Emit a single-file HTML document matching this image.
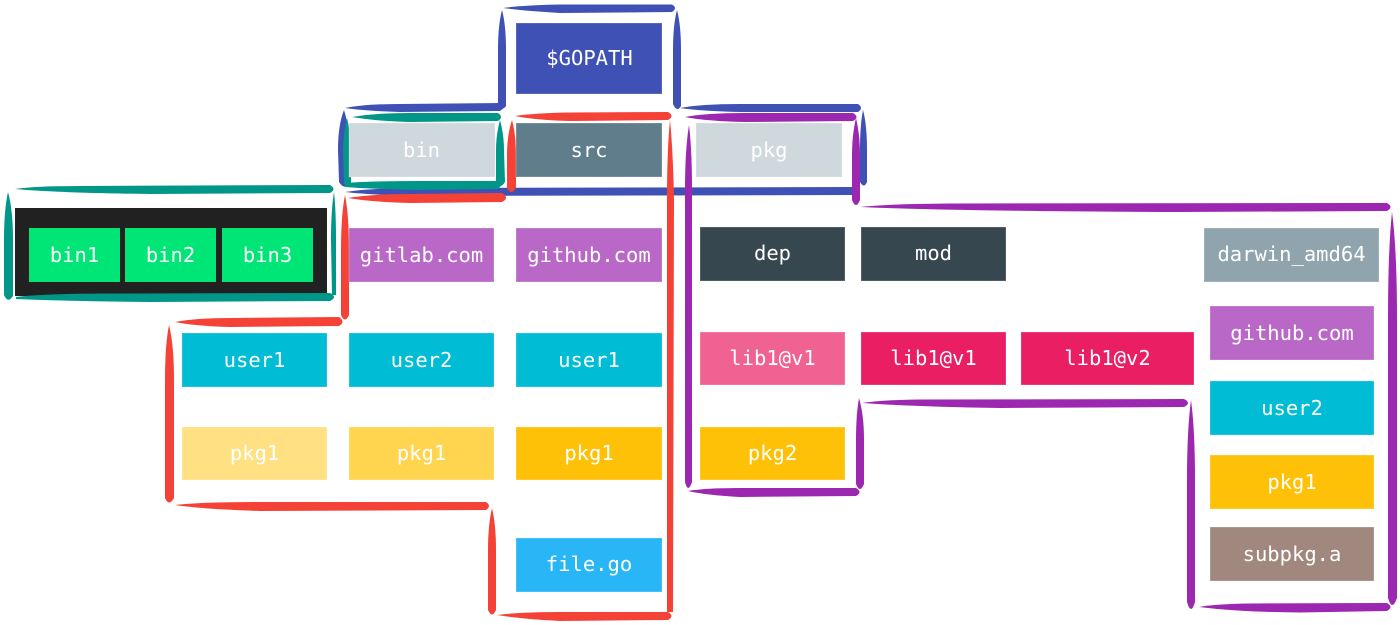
<!DOCTYPE html>
<html><head><meta charset="utf-8"><style>
html,body{margin:0;padding:0;background:#fff;width:1400px;height:625px;overflow:hidden}
svg{display:block}
text{font-family:"DejaVu Sans Mono","Liberation Mono",monospace;font-size:20.5px;fill:#fff;text-anchor:middle}
.l rect{stroke:#fff;stroke-opacity:.25;stroke-width:1}
</style></head><body>
<svg width="1400" height="625" viewBox="0 0 1400 625" xmlns="http://www.w3.org/2000/svg">
<rect width="1400" height="625" fill="#fff"/>
<g fill="#3f51b5">
<path d="M503 8Q525 5 560 4.500L672 4.500Q678 8 672 12L560 13Q525 11 503 8Z"/>
<path d="M502 10Q498 25 498 50L498 104Q502 112 506 106L506 50Q506 25 502 10Z"/>
<path d="M677 10Q673 25 673 50L673 104Q677 113 681 106L681 50Q681 25 677 10Z"/>
<path d="M345 108Q365 104 400 104L503 103L505 107L500 111L400 112Q365 111 345 108Z"/>
<path d="M680 108Q700 104 740 104L858 104Q864 108 858 112L740 112Q700 111 680 108Z"/>
<path d="M344 110Q338 125 338 150L339 182Q344 190 348 184L349 150Q349 125 344 110Z"/>
<path d="M863 110Q860 125 860 150L860 182Q864 189 867 182L867 150Q867 125 863 110Z"/>
<path d="M345 192Q370 188 420 188L855 187Q862 191 855 195L420 196Q370 195 345 192Z"/>
</g>
<g fill="#009688">
<path d="M352 117Q375 113 410 113L498 113Q504 117 498 121L410 122Q375 121 352 117Z"/>
<path d="M347 118Q343 135 343 150L344 184L351 186L351 150Q351 135 347 118Z"/>
<path d="M500 120Q496 135 496 150L496 182Q500 190 505 182L504 150Q504 135 500 120Z"/>
<path d="M345 183Q370 181 420 181L497 181Q505 185 497 189L420 190Q370 189 345 187Z"/>
<path d="M15 189Q35 186 80 186L330 185Q337 189 330 193L150 194Q60 193 15 189Z"/>
<path d="M8 192Q4 210 4 240L4 295Q8 304 13 296L13 240Q13 210 8 192Z"/>
<path d="M334 192Q331 210 331 240L332 295L336 295L336 240Q336 210 334 192Z"/>
</g>
<g fill="#f44336">
<path d="M515 116Q535 113 570 112.500L668 112Q675 116 668 120L570 121Q535 120 515 116Z"/>
<path d="M512 120Q507 135 507 155L507 188Q511 196 516 188L516 155Q516 135 512 120Z"/>
<path d="M348 198Q370 194 410 194L502 193Q510 198 502 202L410 203Q370 202 348 198Z"/>
<path d="M345 195Q341 215 341 250L341 315Q345 324 349 315L349 250Q349 215 345 195Z"/>
<path d="M175 322Q195 318 230 318L339 317Q346 322 339 326L230 327Q195 326 175 322Z"/>
<path d="M169 325Q165 345 165 380L165 498Q169 507 174 498L174 380Q174 345 169 325Z"/>
<path d="M175 505Q200 502 260 502L486 502Q492 506 486 510L260 511Q200 509 175 505Z"/>
<path d="M492 508Q488 525 488 550L488 610Q492 619 496 610L496 550Q496 525 492 508Z"/>
<path d="M497 615Q520 612 560 612L668 612Q675 616 668 620L560 621Q520 619 497 615Z"/>
<path d="M670 120Q667 150 667 200L667 612L673 612L674 200Q673 150 670 120Z"/>
</g>
<g fill="#9c27b0">
<path d="M685 117Q705 113 745 113L853 113Q860 117 853 121L745 122Q705 121 685 117Z"/>
<path d="M856 118Q852 135 852 155L852 200Q856 210 860 200L860 155Q860 135 856 118Z"/>
<path d="M689 125Q685 150 685 190L685 482Q688 494 692 482L692 190Q692 150 689 125Z"/>
<path d="M688 491Q705 488 740 488L856 488Q863 492 856 496L740 497Q705 495 688 491Z"/>
<path d="M859 398Q856 415 856 440L856 484Q860 494 864 484L864 440Q864 415 859 398Z"/>
<path d="M862 403Q880 400 920 399.500L1184 399Q1192 403 1184 407L1000 408Q920 407 862 403Z"/>
<path d="M1191 400Q1187 430 1187 480L1187 602Q1191 616 1195 602L1195 480Q1195 430 1191 400Z"/>
<path d="M1199 607Q1215 604 1250 603.500L1387 603Q1394 607 1387 611L1300 612.500Q1240 612 1199 607Z"/>
<path d="M860 207Q885 204 950 203.500L1387 203Q1394 207 1387 211L1180 212Q950 211 860 207Z"/>
<path d="M1392 212Q1388 250 1388 320L1388 598Q1392 612 1397 598L1397 320Q1397 250 1392 212Z"/>
</g>
<rect x="15" y="208" width="312" height="88" fill="#212121"/>
<path d="M16 297Q40 294 100 293.500L330 293Q338 297 330 301L150 302Q60 301 16 299Z" fill="#009688"/>
<g class="l">
<rect x="516" y="23" width="146" height="71" fill="#3f51b5"/>
<rect x="349" y="123" width="146" height="54" fill="#cfd8dc"/>
<rect x="516" y="123" width="146" height="54" fill="#607d8b"/>
<rect x="696" y="123" width="146" height="54" fill="#cfd8dc"/>
<rect x="349" y="228" width="145" height="54" fill="#ba68c8"/>
<rect x="516" y="228" width="146" height="54" fill="#ba68c8"/>
<rect x="700" y="227" width="145" height="54" fill="#37474f"/>
<rect x="861" y="227" width="145" height="54" fill="#37474f"/>
<rect x="1204" y="228" width="175" height="54" fill="#90a4ae"/>
<rect x="1210" y="306" width="164" height="54" fill="#ba68c8"/>
<rect x="1210" y="381" width="164" height="54" fill="#00bcd4"/>
<rect x="1210" y="455" width="164" height="54" fill="#ffc107"/>
<rect x="1210" y="527" width="164" height="54" fill="#a1887f"/>
<rect x="182" y="333" width="145" height="54" fill="#00bcd4"/>
<rect x="349" y="333" width="145" height="54" fill="#00bcd4"/>
<rect x="516" y="333" width="146" height="54" fill="#00bcd4"/>
<rect x="700" y="332" width="145" height="53" fill="#f06292"/>
<rect x="861" y="332" width="145" height="53" fill="#e91e63"/>
<rect x="1021" y="332" width="173" height="53" fill="#e91e63"/>
<rect x="182" y="427" width="145" height="53" fill="#ffe082"/>
<rect x="349" y="427" width="145" height="53" fill="#ffd54f"/>
<rect x="516" y="427" width="146" height="53" fill="#ffc107"/>
<rect x="700" y="427" width="145" height="53" fill="#ffc107"/>
<rect x="516" y="538" width="146" height="54" fill="#29b6f6"/>
</g>
<rect x="29" y="228" width="91" height="54" fill="#00e676"/>
<rect x="125" y="228" width="91" height="54" fill="#00e676"/>
<rect x="222" y="228" width="91" height="54" fill="#00e676"/>
<text x="589.500" y="65">$GOPATH</text>
<text x="421.500" y="157">bin</text>
<text x="589" y="157">src</text>
<text x="769" y="157">pkg</text>
<text x="74.500" y="262">bin1</text>
<text x="170.500" y="262">bin2</text>
<text x="267.500" y="262">bin3</text>
<text x="421.500" y="262">gitlab.com</text>
<text x="589" y="262">github.com</text>
<text x="772.500" y="260">dep</text>
<text x="933.500" y="260">mod</text>
<text x="1291.500" y="261">darwin_amd64</text>
<text x="1292" y="340">github.com</text>
<text x="1292" y="415">user2</text>
<text x="1292" y="489">pkg1</text>
<text x="1292" y="561">subpkg.a</text>
<text x="254.500" y="367">user1</text>
<text x="421.500" y="367">user2</text>
<text x="589" y="367">user1</text>
<text x="772.500" y="365">lib1@v1</text>
<text x="933.500" y="365">lib1@v1</text>
<text x="1107.500" y="365">lib1@v2</text>
<text x="254.500" y="460">pkg1</text>
<text x="421.500" y="460">pkg1</text>
<text x="589" y="460">pkg1</text>
<text x="772.500" y="460">pkg2</text>
<text x="589" y="571">file.go</text>
</svg>
</body></html>
